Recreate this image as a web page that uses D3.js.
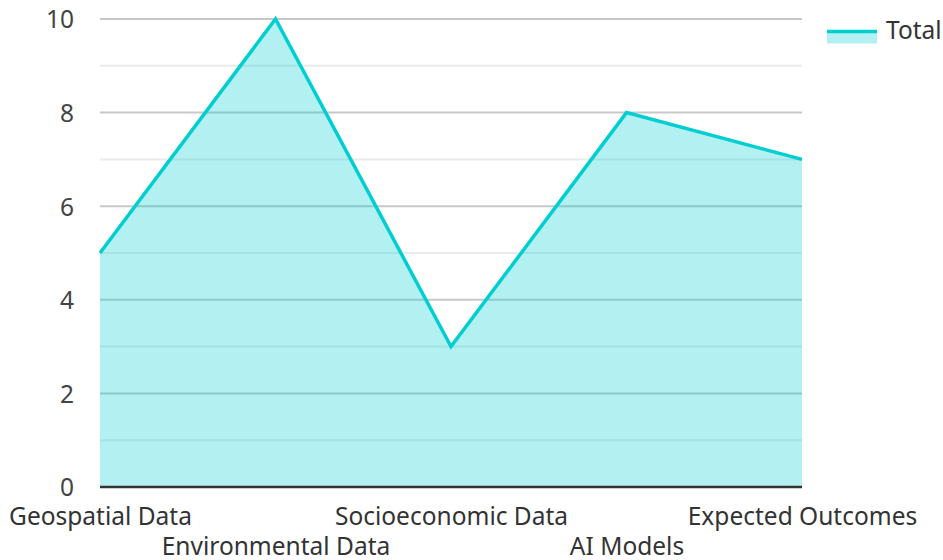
<!DOCTYPE html>
<html>
<head>
<meta charset="utf-8">
<script src="https://cdn.jsdelivr.net/npm/d3@7"></script>
<style>
  html, body { margin: 0; padding: 0; background: #fff; }
  svg { display: block; font-family: "Noto Sans", "Open Sans", sans-serif; }
</style>
</head>
<body>
<svg id="chart" width="943" height="560"></svg>
<script>
// Data
const categories = ["Geospatial Data", "Environmental Data", "Socioeconomic Data", "AI Models", "Expected Outcomes"];
const totals = [5, 10, 3, 8, 7];
const yTicks = [0, 2, 4, 6, 8, 10];
const seriesName = "Total";

const W = 943, H = 560;
const margin = { left: 100, right: 141, top: 19, bottom: 73 };
const lineColor = "#00CED1";
const fillColor = "rgba(0,206,209,0.3)";
const fontSize = 24.5;

const svg = d3.select("#chart");

const x = d3.scalePoint()
  .domain(categories)
  .range([margin.left, W - margin.right]);

const y = d3.scaleLinear()
  .domain([0, 10])
  .range([H - margin.bottom, margin.top]);

// Grid lines: even values stronger, odd values lighter
const gridVals = d3.range(1, 11);
svg.append("g")
  .selectAll("line")
  .data(gridVals)
  .join("line")
  .attr("x1", margin.left)
  .attr("x2", W - margin.right)
  .attr("y1", d => y(d))
  .attr("y2", d => y(d))
  .attr("stroke", d => d % 2 === 0 ? "#c8c8c8" : "#ebebeb")
  .attr("stroke-width", 2);

// Area
const area = d3.area()
  .x((d, i) => x(categories[i]))
  .y0(y(0))
  .y1(d => y(d));

svg.append("path")
  .datum(totals)
  .attr("d", area)
  .attr("fill", fillColor);

// Line
const line = d3.line()
  .x((d, i) => x(categories[i]))
  .y(d => y(d));

svg.append("path")
  .datum(totals)
  .attr("d", line)
  .attr("fill", "none")
  .attr("stroke", lineColor)
  .attr("stroke-width", 3.5)
  .attr("stroke-linejoin", "miter");

// Y axis labels
const yAxis = d3.axisLeft(y).tickValues(yTicks).tickSize(0).tickPadding(26);
const gy = svg.append("g")
  .attr("transform", `translate(${margin.left},0)`)
  .call(yAxis);
gy.select(".domain").remove();
gy.selectAll("text")
  .attr("x", -26)
  .attr("text-anchor", "end")
  .attr("dy", "0.36em")
  .attr("font-size", fontSize)
  .attr("fill", "#444")
  .attr("font-family", "'Noto Sans', 'Open Sans', sans-serif");

// X axis baseline
svg.append("line")
  .attr("x1", margin.left)
  .attr("x2", W - margin.right)
  .attr("y1", y(0))
  .attr("y2", y(0))
  .attr("stroke", "#333")
  .attr("stroke-width", 2.5);

// X axis labels, staggered on two rows
const xAxis = d3.axisBottom(x).tickSize(0).tickPadding(0);
const gx = svg.append("g")
  .attr("transform", `translate(0,${y(0)})`)
  .call(xAxis);
gx.select(".domain").remove();
gx.selectAll("text")
  .attr("font-size", fontSize)
  .attr("fill", "#333")
  .attr("font-family", "'Noto Sans', 'Open Sans', sans-serif")
  .attr("dy", null)
  .attr("y", (d, i) => i % 2 === 0 ? 38 : 68);

// Legend
const lg = svg.append("g").attr("transform", "translate(827,31)");
lg.append("rect")
  .attr("x", 0).attr("y", 1.5)
  .attr("width", 50).attr("height", 11)
  .attr("fill", fillColor);
lg.append("line")
  .attr("x1", 0).attr("x2", 50)
  .attr("y1", 0.5).attr("y2", 0.5)
  .attr("stroke", lineColor)
  .attr("stroke-width", 3.5);
lg.append("text")
  .attr("x", 59)
  .attr("y", 8)
  .attr("font-size", fontSize)
  .attr("fill", "#333")
  .text(seriesName);
</script>
</body>
</html>
